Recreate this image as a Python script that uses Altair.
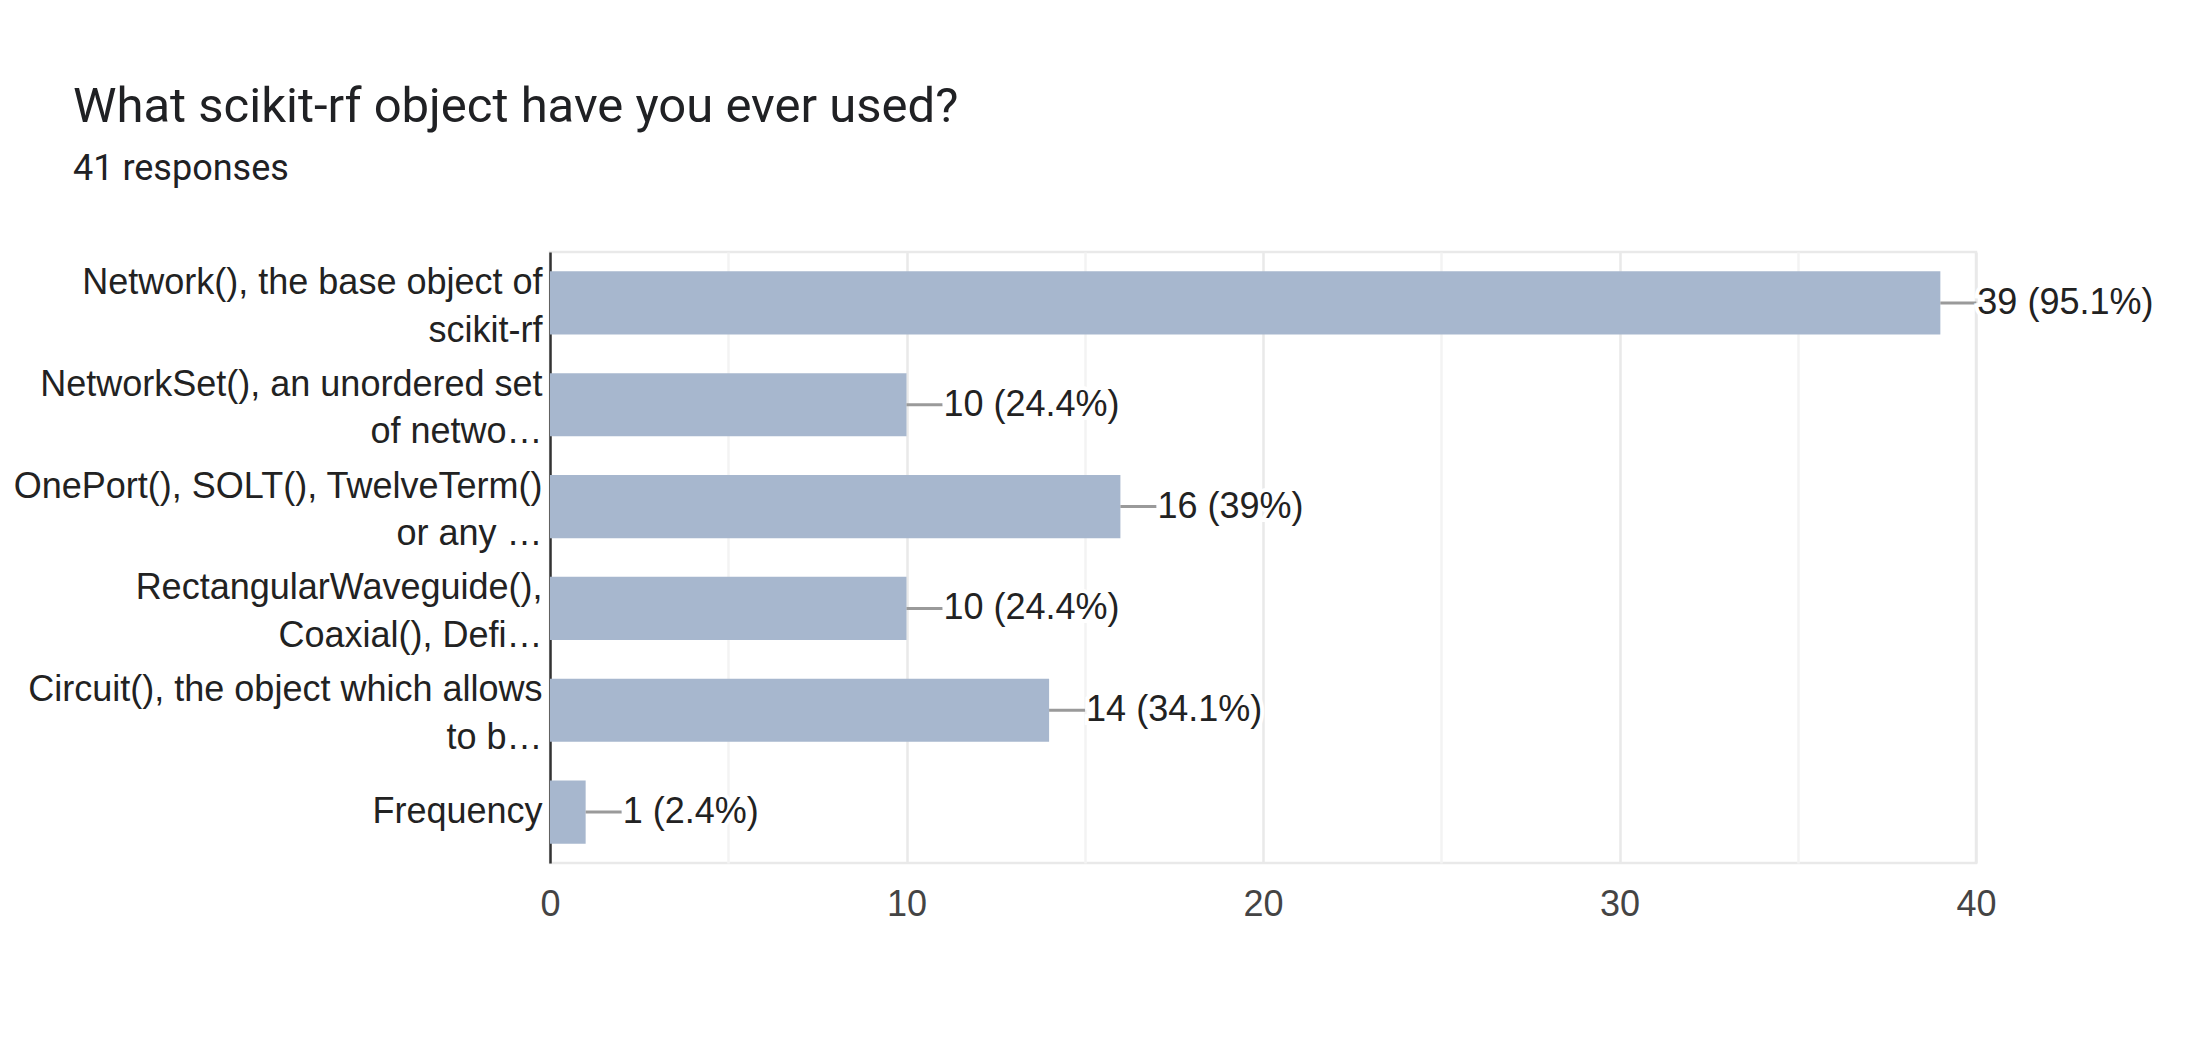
import altair as alt
import pandas as pd

LABEL_FONT = "Liberation Sans"
TITLE_FONT = "Roboto"

# answer options (line breaks marked with "|"), counts and shares
categories = [
    "Network(), the base object of|scikit-rf",
    "NetworkSet(), an unordered set|of netwo…",
    "OnePort(), SOLT(), TwelveTerm()|or any …",
    "RectangularWaveguide(),|Coaxial(), Defi…",
    "Circuit(), the object which allows|to b…",
    "Frequency",
]
counts = [39, 10, 16, 10, 14, 1]
percents = ["95.1%", "24.4%", "39%", "24.4%", "34.1%", "2.4%"]
major_ticks = [0, 10, 20, 30, 40]
minor_ticks = [5, 15, 25, 35]

df = pd.DataFrame({"option": categories, "count": counts, "pct": percents})

x_scale = alt.Scale(domain=[0, 40], nice=False, zero=True)
y_scale = alt.Scale(paddingInner=0.38, paddingOuter=0.19)

y_enc = alt.Y(
    "option:N",
    sort=categories,
    scale=y_scale,
    axis=alt.Axis(
        title=None,
        labelExpr="split(datum.label, '|')",
        labelFont=LABEL_FONT,
        labelFontSize=36,
        labelColor="#222222",
        labelLineHeight=47.6,
        labelPadding=8,
        labelLimit=0,
        # two-line labels are centred on the band, not hung from it
        labelOffset={
            "condition": {"test": "indexof(datum.label, '|') >= 0", "value": -20},
            "value": 0,
        },
        ticks=False,
        grid=False,
        domainColor="#333333",
        domainWidth=2.5,
    ),
)
y_plain = alt.Y("option:N", sort=categories)
x_plain = alt.X("count:Q", axis=None)

base = alt.Chart(df).transform_calculate(
    label="datum.count + ' (' + datum.pct + ')'"
)

bars = base.mark_bar(color="#a7b7ce").encode(
    x=alt.X(
        "count:Q",
        scale=x_scale,
        axis=alt.Axis(
            title=None,
            values=major_ticks,
            grid=True,
            gridColor="#e9e9e9",
            gridWidth=2.5,
            ticks=False,
            domain=False,
            labelFlush=False,
            labelPadding=24,
            labelColor="#444444",
            labelFont=LABEL_FONT,
            labelFontSize=36,
        ),
    ),
    y=y_enc,
)

# second, silent axis that only draws the lighter half-step grid
minor_grid = base.mark_bar(opacity=0).encode(
    x=alt.X(
        "count:Q",
        scale=x_scale,
        axis=alt.Axis(
            orient="top",
            title=None,
            values=minor_ticks,
            grid=True,
            gridColor="#f3f3f3",
            gridWidth=2.5,
            labels=False,
            ticks=False,
            domain=False,
        ),
    ),
    y=y_plain,
)

connectors = base.mark_rule(color="#9a9a9a", strokeWidth=3, x2Offset=36).encode(
    x=x_plain,
    x2="count:Q",
    y=y_plain,
)

halo = base.mark_text(
    align="left", baseline="middle", dx=37, font=LABEL_FONT, fontSize=36,
    color="white", stroke="white", strokeWidth=8,
).encode(x=x_plain, y=y_plain, text="label:N")

values = base.mark_text(
    align="left", baseline="middle", dx=37, font=LABEL_FONT, fontSize=36,
    color="#222222",
).encode(x=x_plain, y=y_plain, text="label:N")

chart = (
    alt.layer(minor_grid, bars, connectors, halo, values)
    .resolve_axis(x="independent")
    .properties(
        width=1426,
        height=611,
        autosize=alt.AutoSizeParams(type="none"),
        padding={"left": 542, "top": 244, "right": 200, "bottom": 160},
        title=alt.TitleParams(
            text="What scikit-rf object have you ever used?",
            subtitle="41 responses",
            anchor="start",
            frame="group",
            dx=-477,
            offset=65,
            font=TITLE_FONT,
            fontSize=49,
            fontWeight="normal",
            color="#202124",
            subtitleFont=TITLE_FONT,
            subtitleFontSize=36,
            subtitleColor="#202124",
            subtitlePadding=20,
        ),
    )
    .configure_view(stroke="#e9e9e9", strokeWidth=2.5)
)

chart.save("out.html", embed_options={"renderer": "svg", "actions": False})
